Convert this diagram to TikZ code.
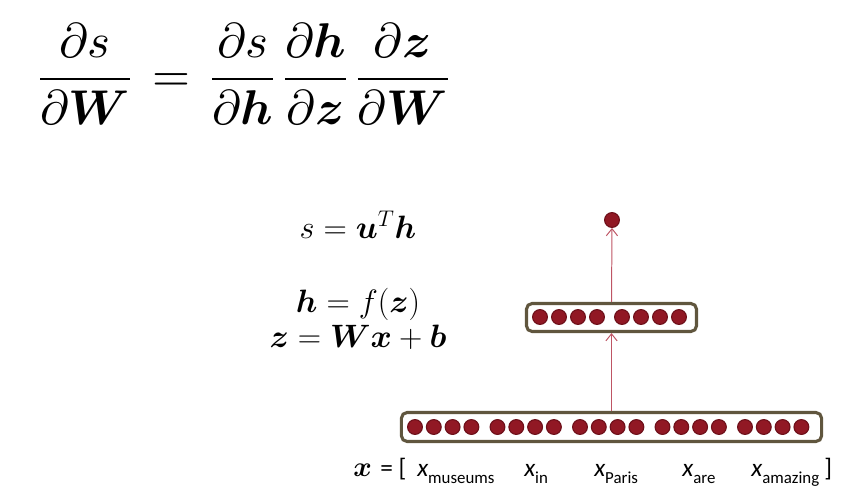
\RequirePackage{fix-cm}
\documentclass[tikz,border=0pt]{standalone}
\usepackage{graphicx}
\usepackage{amsmath,amsbsy}
\usepackage{fontspec}
\newfontfamily\calibri{Carlito}
\usetikzlibrary{arrows.meta}

\definecolor{boxline}{RGB}{96,86,62}
\definecolor{unitfill}{RGB}{145,24,36}
\definecolor{unitline}{RGB}{110,16,26}
\definecolor{wirered}{RGB}{190,85,100}

\newcommand{\xword}[1]{{\itshape x}\raisebox{-5pt}{\fontsize{12}{14}\selectfont #1}}

\begin{document}
\begin{tikzpicture}[x=0.025cm, y=-0.025cm, >={Straight Barb[length=5pt,width=8pt]},
  unit/.style={circle, draw=unitline, fill=unitfill, line width=0.8pt, minimum size=0.37cm, inner sep=0pt},
  layer/.style={draw=boxline, fill=white, rounded corners=4pt, line width=2.2pt, inner sep=0pt},
  wire/.style={->, draw=wirered, line width=0.7pt},
  eq/.style={anchor=base, inner sep=0pt, font=\fontsize{23}{28}\selectfont},
  word/.style={anchor=base west, inner sep=0pt, font=\calibri\fontsize{18}{22}\selectfont}]

\useasboundingbox (0,0) rectangle (843,501);

% chain rule
\node[anchor=base, inner sep=0pt] (chain) at (244,91)
  {\scalebox{3.47}{$\displaystyle \frac{\partial s}{\partial\boldsymbol{W}} \mkern1mu=\mkern1mu
    \frac{\partial s}{\partial\boldsymbol{h}}\frac{\partial\boldsymbol{h}}{\partial\boldsymbol{z}}\frac{\partial\boldsymbol{z}}{\partial\boldsymbol{W}}$}};

% model
\node[eq] (score) at (358,238) {$s = \boldsymbol{u}^{T}\boldsymbol{h}$};
\node[eq] (hidden) at (358,312) {$\boldsymbol{h} = f(\boldsymbol{z})$};
\node[eq] (affine) at (358,347) {$\boldsymbol{z} = \boldsymbol{W}\boldsymbol{x} + \boldsymbol{b}$};

% network
\node[unit] (out) at (612,220) {};
\node[layer, minimum width=4.25cm, minimum height=0.7cm] (hbox) at (611.5,317.5) {};
\foreach \i/\px in {1/540,2/559,3/578,4/597,5/622,6/641,7/660,8/679}
  \node[unit] (h\i) at (\px,317) {};
\node[layer, minimum width=10.5cm, minimum height=0.725cm] (xbox) at (611.5,427) {};
\foreach \g in {0,...,4}
  \foreach \k in {0,...,3}
    \node[unit] (x\g\k) at ({415+82.5*\g+18.8*\k},427) {};

\draw[wire] (xbox.north) -- (hbox.south);
\draw[wire] (hbox.north) -- (out.south);

% input words
\node[anchor=base west, inner sep=0pt, font=\fontsize{20}{24}\selectfont] (xvec) at (353,476) {$\boldsymbol{x}$};
\node[word] (open) at (380,476) {= [};
\node[word] (xmus) at (417,476) {\xword{museums}};
\node[word] (xin) at (524,476) {\xword{in}};
\node[word] (xpar) at (594,476) {\xword{Paris}};
\node[word] (xare) at (682,476) {\xword{are}};
\node[word] (xama) at (751,476) {\xword{amazing}};
\node[word] (close) at (824,476) {]};

\end{tikzpicture}
\end{document}
